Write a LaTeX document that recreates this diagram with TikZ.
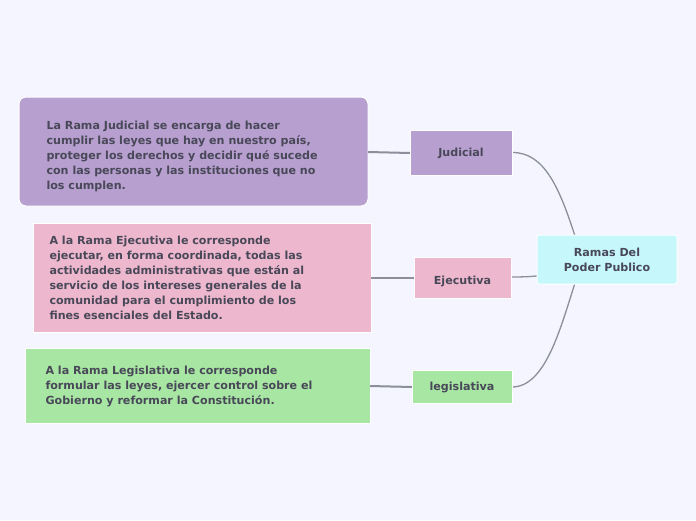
\documentclass[tikz,border=0pt]{standalone}
\usepackage{fontspec}
\setmainfont{DejaVu Sans}
\begin{document}
\begin{tikzpicture}[x=1pt,y=-1pt,
  txt/.style={font=\bfseries\fontsize{11.1}{15}\selectfont,text={rgb,255:red,72;green,72;blue,88},align=left,anchor=west},
  box/.style={draw=white,line width=1pt,inner sep=0pt},
  link/.style={draw={rgb,255:red,140;green,143;blue,155},line width=1.3pt},
  thick link/.style={draw={rgb,255:red,140;green,143;blue,155},line width=2pt}]
\fill[fill={rgb,255:red,244;green,245;blue,255}] (0,0) rectangle (696,520);
\definecolor{pur}{RGB}{183,159,207}
\definecolor{pnk}{RGB}{237,184,206}
\definecolor{grn}{RGB}{168,230,163}
\definecolor{cy}{RGB}{198,247,251}
\coordinate (r) at (575,259.5);
\coordinate (jr) at (512,152.5);
\coordinate (er) at (511,277);
\coordinate (lr) at (512,387);
\draw[link] (jr) .. controls (545,152) and (560,190) .. (575,236);
\draw[link] (er) .. controls (540,277) and (560,275) .. (r);
\draw[link] (lr) .. controls (545,387) and (560,330) .. (575,283);
% root
\draw[box,fill=cy,rounded corners=2pt] (537,235) rectangle (677,284);
\node[txt,anchor=center,align=center] (root) at (607,259.5) {Ramas Del\\Poder Publico};
% children
\draw[box,fill=pur] (410,130) rectangle (512,175);
\node[txt,anchor=center] (jud) at (461,153) {Judicial};
\draw[box,fill=pnk] (414,257) rectangle (511,298);
\node[txt,anchor=center] (eje) at (462.5,281) {Ejecutiva};
\draw[box,fill=grn] (412,370) rectangle (512,403);
\node[txt,anchor=center] (leg) at (462,387) {legislativa};
% text boxes
\draw[box,fill=pur,rounded corners=7pt] (19,97) rectangle (368,206);
\node[txt] (tj) at (43,156) {La Rama Judicial se encarga de hacer\\cumplir las leyes que hay en nuestro país,\\proteger los derechos y decidir qué sucede\\con las personas y las instituciones que no\\los cumplen.};
\draw[box,fill=pnk] (33,223) rectangle (371,332);
\node[txt] (te) at (46,278) {A la Rama Ejecutiva le corresponde\\ejecutar, en forma coordinada, todas las\\actividades administrativas que están al\\servicio de los intereses generales de la\\comunidad para el cumplimiento de los\\fines esenciales del Estado.};
\draw[box,fill=grn] (25,348) rectangle (370,423);
\node[txt] (tl) at (42,386) {A la Rama Legislativa le corresponde\\formular las leyes, ejercer control sobre el\\Gobierno y reformar la Constitución.};
\draw[thick link] (368,152) -- (410,153);
\draw[thick link] (371,278) -- (414,278);
\draw[thick link] (370,386) -- (412,387);
\end{tikzpicture}
\end{document}
